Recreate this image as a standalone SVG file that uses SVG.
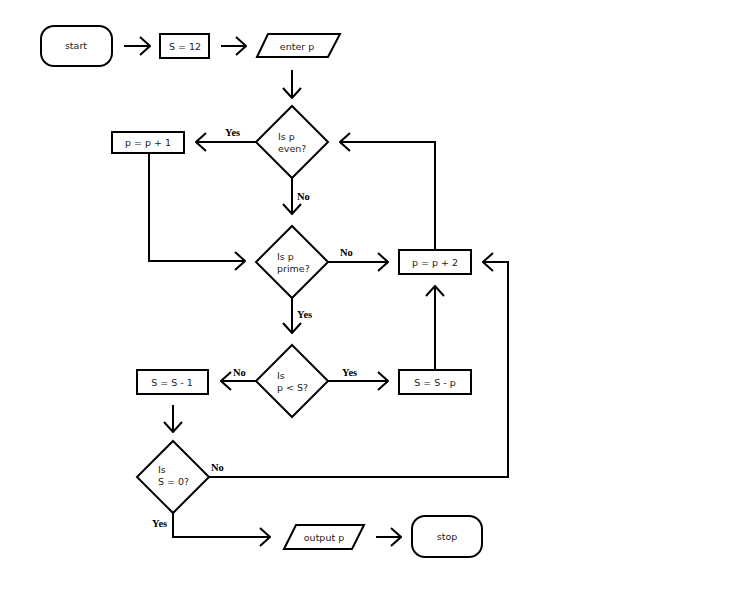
<svg xmlns="http://www.w3.org/2000/svg" width="752" height="591" viewBox="0 0 752 591">
<style>
.s{fill:#fff;stroke:#000;stroke-width:2}
.t{font-family:"DejaVu Sans",sans-serif;font-size:9.5px;fill:#222}
.m{text-anchor:middle}
.l{font-family:"Liberation Serif",serif;font-weight:bold;font-size:10.5px;fill:#000}
.c{fill:none;stroke:#000;stroke-width:2}
</style>
<defs>
<marker id="a" viewBox="0 0 12 20" refX="11" refY="10" markerWidth="12" markerHeight="20" markerUnits="userSpaceOnUse" orient="auto">
<path d="M1,1 L11,10 L1,19" fill="none" stroke="#000" stroke-width="2"/>
</marker>
</defs>
<rect width="752" height="591" fill="#fff"/>
<g id="connectors" class="c">
<path d="M124,46H150" marker-end="url(#a)"/>
<path d="M221,46H246" marker-end="url(#a)"/>
<path d="M292,70V98" marker-end="url(#a)"/>
<path d="M256,142H196" marker-end="url(#a)"/>
<path d="M149,153V261H245" marker-end="url(#a)"/>
<path d="M292,178V214" marker-end="url(#a)"/>
<path d="M328,262H388" marker-end="url(#a)"/>
<path d="M435,250V142H340" marker-end="url(#a)"/>
<path d="M292,298V333" marker-end="url(#a)"/>
<path d="M328,381H388" marker-end="url(#a)"/>
<path d="M435,370V286" marker-end="url(#a)"/>
<path d="M256,381H221" marker-end="url(#a)"/>
<path d="M173,405V432" marker-end="url(#a)"/>
<path d="M209,477H508V262H483" marker-end="url(#a)"/>
<path d="M173,512V537H270" marker-end="url(#a)"/>
<path d="M376,537H401" marker-end="url(#a)"/>
</g>
<g class="l">
<text x="225" y="136">Yes</text>
<text x="297" y="200">No</text>
<text x="340" y="256">No</text>
<text x="297" y="318">Yes</text>
<text x="342" y="376">Yes</text>
<text x="233" y="376">No</text>
<text x="211" y="471">No</text>
<text x="152" y="527">Yes</text>
</g>
<g id="start"><rect class="s" x="41" y="26" width="71" height="40" rx="13"/><text class="t m" x="76" y="49">start</text></g>
<g id="s12"><rect class="s" x="160" y="34" width="49" height="24"/><text class="t m" x="185" y="50">S = 12</text></g>
<g id="enterp"><polygon class="s" points="257,57 268,34 340,34 328,57"/><text class="t m" x="297" y="50">enter p</text></g>
<g id="even"><polygon class="s" points="292,106 328,142 292,178 256,142"/><text class="t" x="278" y="140">Is p</text><text class="t" x="278" y="152">even?</text></g>
<g id="pp1"><rect class="s" x="112" y="132" width="72" height="21"/><text class="t m" x="148" y="146">p = p + 1</text></g>
<g id="prime"><polygon class="s" points="292,226 328,262 292,298 256,262"/><text class="t" x="277" y="260">Is p</text><text class="t" x="277" y="272">prime?</text></g>
<g id="pp2"><rect class="s" x="399" y="250" width="72" height="24"/><text class="t m" x="435" y="266">p = p + 2</text></g>
<g id="plts"><polygon class="s" points="292,345 328,381 292,417 256,381"/><text class="t" x="277" y="379">Is</text><text class="t" x="277" y="391">p &lt; S?</text></g>
<g id="ssp"><rect class="s" x="399" y="370" width="72" height="24"/><text class="t m" x="435" y="386">S = S - p</text></g>
<g id="ss1"><rect class="s" x="137" y="370" width="71" height="24"/><text class="t m" x="172" y="386">S = S - 1</text></g>
<g id="s0"><polygon class="s" points="173,441 209,477 173,513 137,477"/><text class="t" x="158" y="473">Is</text><text class="t" x="158" y="485">S = 0?</text></g>
<g id="outp"><polygon class="s" points="284,549 296,525 364,525 352,549"/><text class="t m" x="324" y="541">output p</text></g>
<g id="stop"><rect class="s" x="412" y="516" width="70" height="41" rx="13"/><text class="t m" x="447" y="540">stop</text></g>
</svg>
